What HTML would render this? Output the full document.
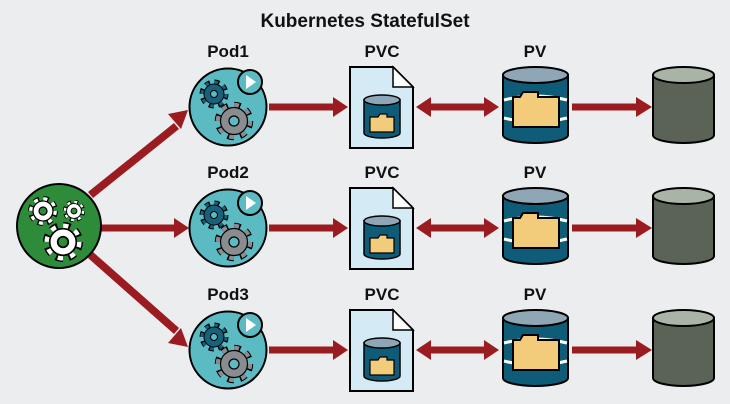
<!DOCTYPE html>
<html><head><meta charset="utf-8"><style>
html,body{margin:0;padding:0;background:#ECEDEF}
svg{display:block}
text{font-family:"Liberation Sans",sans-serif;font-weight:bold;fill:#111}
</style></head><body>
<svg width="730" height="404" viewBox="0 0 730 404" xmlns="http://www.w3.org/2000/svg">
<defs>
<g id="gearW">
  <circle r="10.5" fill="none" stroke="#000" stroke-width="7.5" stroke-dasharray="4.6 3.65"/>
  <circle r="10.5" fill="none" stroke="#fff" stroke-width="5.5" stroke-dasharray="3.4 4.85"/>
  <circle r="9.5" fill="#fff" stroke="#000" stroke-width="1.2"/>
  <circle r="3.8" fill="#2E8B3A" stroke="#000" stroke-width="1.2"/>
</g>
<g id="row">
  <circle cx="228" cy="107" r="38.5" fill="#5BBAC2" stroke="#000" stroke-width="2"/>
  <g transform="translate(214,94)">
    <circle r="11" fill="none" stroke="#000" stroke-width="7" stroke-dasharray="4.6 4.04"/>
    <circle r="11" fill="none" stroke="#17627A" stroke-width="5" stroke-dasharray="3.4 5.24"/>
    <circle r="10" fill="#17627A" stroke="#000" stroke-width="1"/>
    <circle r="3.5" fill="#5BBAC2" stroke="#000" stroke-width="1"/>
  </g>
  <g transform="translate(234,121)">
    <circle r="15" fill="none" stroke="#000" stroke-width="8.5" stroke-dasharray="6 5.78"/>
    <circle r="15" fill="none" stroke="#8A8C90" stroke-width="6.5" stroke-dasharray="4.6 7.18"/>
    <circle r="13.5" fill="#8A8C90" stroke="#000" stroke-width="1.2"/>
    <circle r="5" fill="#5BBAC2" stroke="#000" stroke-width="1.2"/>
  </g>
  <circle cx="250" cy="82" r="12" fill="#5BBAC2" stroke="#000" stroke-width="2"/>
  <path d="M246 75 L256 82 L246 89 Z" fill="#fff"/>
  <text x="228" y="57" font-size="17" text-anchor="middle">Pod1</text>
  <rect x="269" y="103.5" width="66" height="7" fill="#9B1C20"/>
  <path d="M333 97 L348 107 L333 117 Z" fill="#9B1C20"/>
  <path d="M350 67 L393 67 L413 87 L413 148 L350 148 Z" fill="#D4EAF5" stroke="#000" stroke-width="2"/>
  <path d="M393 67 L393 87 L413 87 Z" fill="#fff" stroke="#000" stroke-width="1.5"/>
  <path d="M364 100 L364 133 A18 5 0 0 0 400 133 L400 100 Z" fill="#0F5C78" stroke="#000" stroke-width="1.5"/>
  <ellipse cx="382" cy="100" rx="18" ry="5" fill="#8FA6B6" stroke="#000" stroke-width="1.5"/>
  <path d="M370 117 L378 117 L380 114 L387 114 L387 117 L394 117 L394 132 L370 132 Z" fill="#F2CC7A" stroke="#000" stroke-width="1.2"/>
  <text x="382" y="57" font-size="17" text-anchor="middle">PVC</text>
  <rect x="428" y="103.5" width="58" height="7" fill="#9B1C20"/>
  <path d="M431 97 L416 107 L431 117 Z" fill="#9B1C20"/>
  <path d="M484 97 L499 107 L484 117 Z" fill="#9B1C20"/>
  <path d="M503 75 L503 135 A32.5 8 0 0 0 568 135 L568 75 Z" fill="#0F5C78" stroke="#000" stroke-width="2"/>
  <path d="M504 100 Q535 92 567 100 M504 118 Q535 126 567 118" fill="none" stroke="#fff" stroke-width="3"/>
  <ellipse cx="535.5" cy="75" rx="32.5" ry="8" fill="#8FA6B6" stroke="#000" stroke-width="2"/>
  <path d="M513 97 L520 97 L523 92 L538 92 L538 97 L559 97 L559 127 L513 127 Z" fill="#F2CC7A" stroke="#000" stroke-width="2"/>
  <text x="535" y="57" font-size="17" text-anchor="middle">PV</text>
  <rect x="572" y="103.5" width="66" height="7" fill="#9B1C20"/>
  <path d="M636 97 L652 107 L636 117 Z" fill="#9B1C20"/>
  <path d="M653 75 L653 135 A30.5 8 0 0 0 714 135 L714 75 Z" fill="#5A6356" stroke="#000" stroke-width="2"/>
  <ellipse cx="683.5" cy="75" rx="30.5" ry="8" fill="#A9B3A6" stroke="#000" stroke-width="2"/>
</g>
</defs>

<text x="365" y="27" font-size="19" text-anchor="middle">Kubernetes StatefulSet</text>

<g fill="#9B1C20">
  <path d="M88 192 L174 123 L179 129 L93 198 Z"/>
  <path d="M168 114 L188 110 L181 129 Z"/>
  <rect x="100" y="224.5" width="76" height="7"/>
  <path d="M174 218 L189 228 L174 238 Z"/>
  <path d="M88 258 L174 334 L179 328 L93 252 Z"/>
  <path d="M168 343 L188 347 L181 328 Z"/>
</g>

<circle cx="59" cy="226" r="42" fill="#2E8B3A" stroke="#000" stroke-width="2"/>
<use href="#gearW" transform="translate(43,211) scale(1.05)"/>
<use href="#gearW" transform="translate(74,211) scale(0.78)"/>
<use href="#gearW" transform="translate(63,242) scale(1.4)"/>

<use href="#row"/>
<use href="#row" transform="translate(0,121)"/>
<use href="#row" transform="translate(0,243)"/>
<rect x="205" y="162" width="46" height="20" fill="#ECEDEF"/>
<text x="228" y="178" font-size="17" text-anchor="middle">Pod2</text>
<rect x="205" y="284" width="46" height="20" fill="#ECEDEF"/>
<text x="228" y="300" font-size="17" text-anchor="middle">Pod3</text>
</svg>
</body></html>
